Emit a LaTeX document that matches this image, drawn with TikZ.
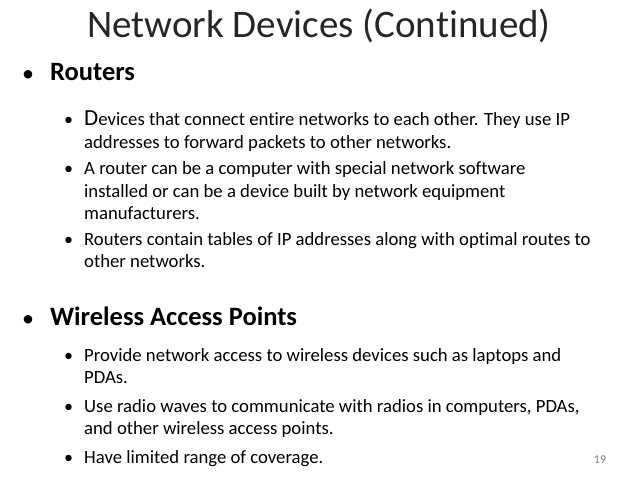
\documentclass[tikz,border=0pt]{standalone}
\usepackage{fontspec}
\setmainfont{Carlito}[Ligatures=NoCommon]
\begin{document}
\begin{tikzpicture}[x=1pt,y=-1pt,
  title/.style={font=\fontsize{39}{44}\selectfont,anchor=mid,text=black!85},
  lvla/.style={font=\fontsize{26.5}{30}\selectfont\bfseries,anchor=mid west,inner sep=0},
  lvlb/.style={font=\fontsize{18.7}{22}\selectfont,anchor=mid west,inner sep=0},
  bul/.style={anchor=mid west,inner sep=0}]
\useasboundingbox (0,0) rectangle (638,479);
\node[title] (t) at (319,35) {Network Devices (Continued)};
\node[bul,font=\fontsize{24}{28}\selectfont] (b1) at (22,79) {•};
\node[lvla] (r) at (50,78) {Routers};
\node[bul,font=\fontsize{18}{22}\selectfont] (s1) at (64,123) {•};
\node[lvlb] (l1) at (84,123) {{\fontsize{23}{24}\selectfont D}evices that connect entire networks to each other. They use IP};
\node[lvlb] (l2) at (84,146) {addresses to forward packets to other networks.};
\node[bul,font=\fontsize{18}{22}\selectfont] (s2) at (64,172) {•};
\node[lvlb] (l3) at (84,172) {A router can be a computer with special network software};
\node[lvlb] (l4) at (84,195) {installed or can be a device built by network equipment};
\node[lvlb] (l5) at (84,217) {manufacturers.};
\node[bul,font=\fontsize{18}{22}\selectfont] (s3) at (64,243) {•};
\node[lvlb] (l6) at (84,243) {Routers contain tables of IP addresses along with optimal routes to};
\node[lvlb] (l7) at (84,265) {other networks.};
\node[bul,font=\fontsize{24}{28}\selectfont] (b2) at (22,324) {•};
\node[lvla] (w) at (50,323) {Wireless Access Points};
\node[bul,font=\fontsize{18}{22}\selectfont] (s4) at (64,359) {•};
\node[lvlb] (m1) at (84,359) {Provide network access to wireless devices such as laptops and};
\node[lvlb] (m2) at (84,381) {PDAs.};
\node[bul,font=\fontsize{18}{22}\selectfont] (s5) at (64,410) {•};
\node[lvlb] (m3) at (84,410) {Use radio waves to communicate with radios in computers, PDAs,};
\node[lvlb] (m4) at (84,432) {and other wireless access points.};
\node[bul,font=\fontsize{18}{22}\selectfont] (s6) at (64,461) {•};
\node[lvlb] (m5) at (84,461) {Have limited range of coverage.};
\node[anchor=mid,font=\fontsize{12}{14}\selectfont,text=gray] (pn) at (600,461) {19};
\end{tikzpicture}
\end{document}
